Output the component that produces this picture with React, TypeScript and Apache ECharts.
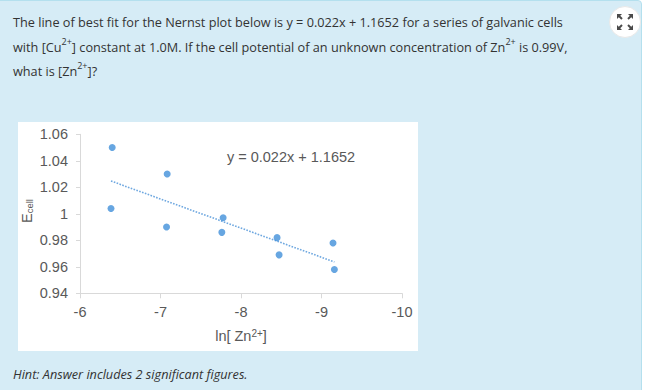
import React, { useEffect, useRef } from "react";
import * as echarts from "echarts";

// ---- data ----
const lnZn = [-6.4, -6.385, -7.083, -7.075, -7.778, -7.762, -8.448, -8.473, -9.143, -9.16];
const eCell = [1.05, 1.004, 1.03, 0.99, 0.997, 0.986, 0.982, 0.969, 0.978, 0.958];
const fitSlope = 0.022;
const fitIntercept = 1.1652;
const xAxisMin = -10;
const xAxisMax = -6;
const xAxisStep = 1;
const yAxisMin = 0.94;
const yAxisMax = 1.06;
const yAxisStep = 0.02;

const LABEL_COLOR = "#595959";
const AXIS_COLOR = "#d9d9d9";
const CHART_FONT = "'Liberation Sans', Arial, sans-serif";

function Chart() {
  const ref = useRef<HTMLDivElement>(null);
  useEffect(() => {
    if (!ref.current) return;
    const chart = echarts.init(ref.current, undefined, { renderer: "svg" });
    const xs = lnZn.slice();
    const xStart = Math.max(...xs);
    const xEnd = Math.min(...xs);
    const fitLine = [
      [xStart, fitSlope * xStart + fitIntercept],
      [xEnd, fitSlope * xEnd + fitIntercept],
    ];
    const points = lnZn.map((x, i) => [x, eCell[i]]);
    const eqText = `y = ${fitSlope}x + ${fitIntercept}`;
    chart.setOption({
      animation: false,
      backgroundColor: "#ffffff",
      textStyle: { fontFamily: CHART_FONT },
      grid: { left: 62, right: 16, top: 12.3, bottom: 57.7, containLabel: false, outerBoundsMode: "none" },
      xAxis: {
        type: "value",
        min: xAxisMin,
        max: xAxisMax,
        interval: xAxisStep,
        inverse: true,
        axisLine: { show: true, onZero: false, lineStyle: { color: AXIS_COLOR, width: 1 } },
        axisTick: { show: true, length: 5, lineStyle: { color: AXIS_COLOR } },
        splitLine: { show: false },
        axisLabel: { color: LABEL_COLOR, fontSize: 14.5, fontFamily: CHART_FONT, margin: 11 },
        name: "{m|ln[ Zn}{s|2+}{m|]}",
        nameLocation: "middle",
        nameGap: 31,
        nameTextStyle: {
          rich: {
            m: { fontSize: 14.5, lineHeight: 15, color: LABEL_COLOR, fontFamily: CHART_FONT, verticalAlign: "bottom", padding: [4, 0, 0, 0] },
            s: { fontSize: 10, lineHeight: 10, color: LABEL_COLOR, fontFamily: CHART_FONT, verticalAlign: "top" },
          },
        },
      },
      yAxis: {
        type: "value",
        min: yAxisMin,
        max: yAxisMax,
        interval: yAxisStep,
        axisLine: { show: true, onZero: false, lineStyle: { color: AXIS_COLOR, width: 1 } },
        axisTick: { show: true, length: 4, lineStyle: { color: AXIS_COLOR } },
        splitLine: { show: false },
        axisLabel: {
          color: LABEL_COLOR,
          fontSize: 14.5,
          fontFamily: CHART_FONT,
          margin: 12,
          formatter: (v: number) => String(parseFloat(v.toFixed(2))),
        },
      },
      graphic: [
        {
          type: "text",
          x: 273,
          y: 35,
          style: {
            text: eqText,
            fill: LABEL_COLOR,
            font: `14.5px ${CHART_FONT}`,
            align: "center",
            verticalAlign: "middle",
          },
        },
        {
          type: "text",
          x: 9,
          y: 89,
          rotation: Math.PI / 2,
          style: {
            text: "{e|E}{s|cell}",
            align: "center",
            verticalAlign: "middle",
            rich: {
              e: { fontSize: 14.5, lineHeight: 15, fill: LABEL_COLOR, fontFamily: CHART_FONT, verticalAlign: "top" },
              s: { fontSize: 9.5, lineHeight: 10, fill: LABEL_COLOR, fontFamily: CHART_FONT, verticalAlign: "bottom", padding: [7, 0, 0, 0] },
            },
          },
        },
      ],
      series: [
        {
          type: "line",
          data: fitLine,
          showSymbol: false,
          symbol: "none",
          lineStyle: { color: "#6fa8e0", width: 1.6, type: [1.6, 1.4] },
          silent: true,
          z: 1,
        },
        {
          type: "scatter",
          data: points,
          symbolSize: 7,
          itemStyle: { color: "#4190d9" },
          z: 2,
        },
      ],
    });
    return () => chart.dispose();
  }, []);
  return <div ref={ref} style={{ width: 400, height: 229 }} />;
}

function ExpandIcon() {
  const cx = 625;
  const cy = 22;
  const c = "#4a4a4a";
  const arrow = (sx: number, sy: number, key: string) => {
    const tip = [cx + sx * 8, cy + sy * 8];
    const p1 = [tip[0] - sx * 5, tip[1]];
    const p2 = [tip[0], tip[1] - sy * 5];
    return (
      <g key={key}>
        <polygon points={`${tip[0]},${tip[1]} ${p1[0]},${p1[1]} ${p2[0]},${p2[1]}`} fill={c} />
        <line x1={tip[0] - sx * 2} y1={tip[1] - sy * 2} x2={cx + sx * 3} y2={cy + sy * 3} stroke={c} strokeWidth={2} />
      </g>
    );
  };
  return (
    <svg width={649} height={60} style={{ position: "absolute", left: 0, top: 0 }}>
      <circle cx={cx} cy={cy} r={15.5} fill="#ffffff" stroke="#e8e8e8" strokeWidth={1} />
      {arrow(-1, -1, "nw")}
      {arrow(1, -1, "ne")}
      {arrow(-1, 1, "sw")}
      {arrow(1, 1, "se")}
    </svg>
  );
}

const supStyle: React.CSSProperties = { fontSize: "9px", verticalAlign: "7px", lineHeight: 0 };

export default function App() {
  return (
    <div
      style={{
        position: "absolute",
        left: 0,
        top: 0,
        width: 649,
        height: 390,
        overflow: "hidden",
        background: "#ffffff",
      }}
    >
      <div
        style={{
          position: "absolute",
          left: -6,
          top: 0,
          width: 648,
          height: 400,
          background: "#d6ecf6",
          border: "1px solid #b4e0ee",
          borderRadius: 4,
          boxSizing: "border-box",
        }}
      />
      <div
        style={{
          position: "absolute",
          left: 13,
          top: 10,
          fontFamily: "'Open Sans', sans-serif",
          fontSize: "12.7px",
          lineHeight: "24.5px",
          color: "#333333",
          whiteSpace: "nowrap",
        }}
      >
        The line of best fit for the Nernst plot below is y = 0.022x + 1.1652 for a series of galvanic cells
        <br />
        with [Cu<sup style={supStyle}>2+</sup>] constant at 1.0M. If the cell potential of an unknown concentration of Zn
        <sup style={supStyle}>2+</sup> is 0.99V,
        <br />
        what is [Zn<sup style={supStyle}>2+</sup>]?
      </div>
      <ExpandIcon />
      <div style={{ position: "absolute", left: 18, top: 122 }}>
        <Chart />
      </div>
      <div
        style={{
          position: "absolute",
          left: 13,
          top: 362,
          fontFamily: "'Open Sans', sans-serif",
          fontSize: "12.7px",
          fontStyle: "italic",
          lineHeight: "24px",
          color: "#333333",
          whiteSpace: "nowrap",
        }}
      >
        Hint: Answer includes 2 significant figures.
      </div>
    </div>
  );
}
